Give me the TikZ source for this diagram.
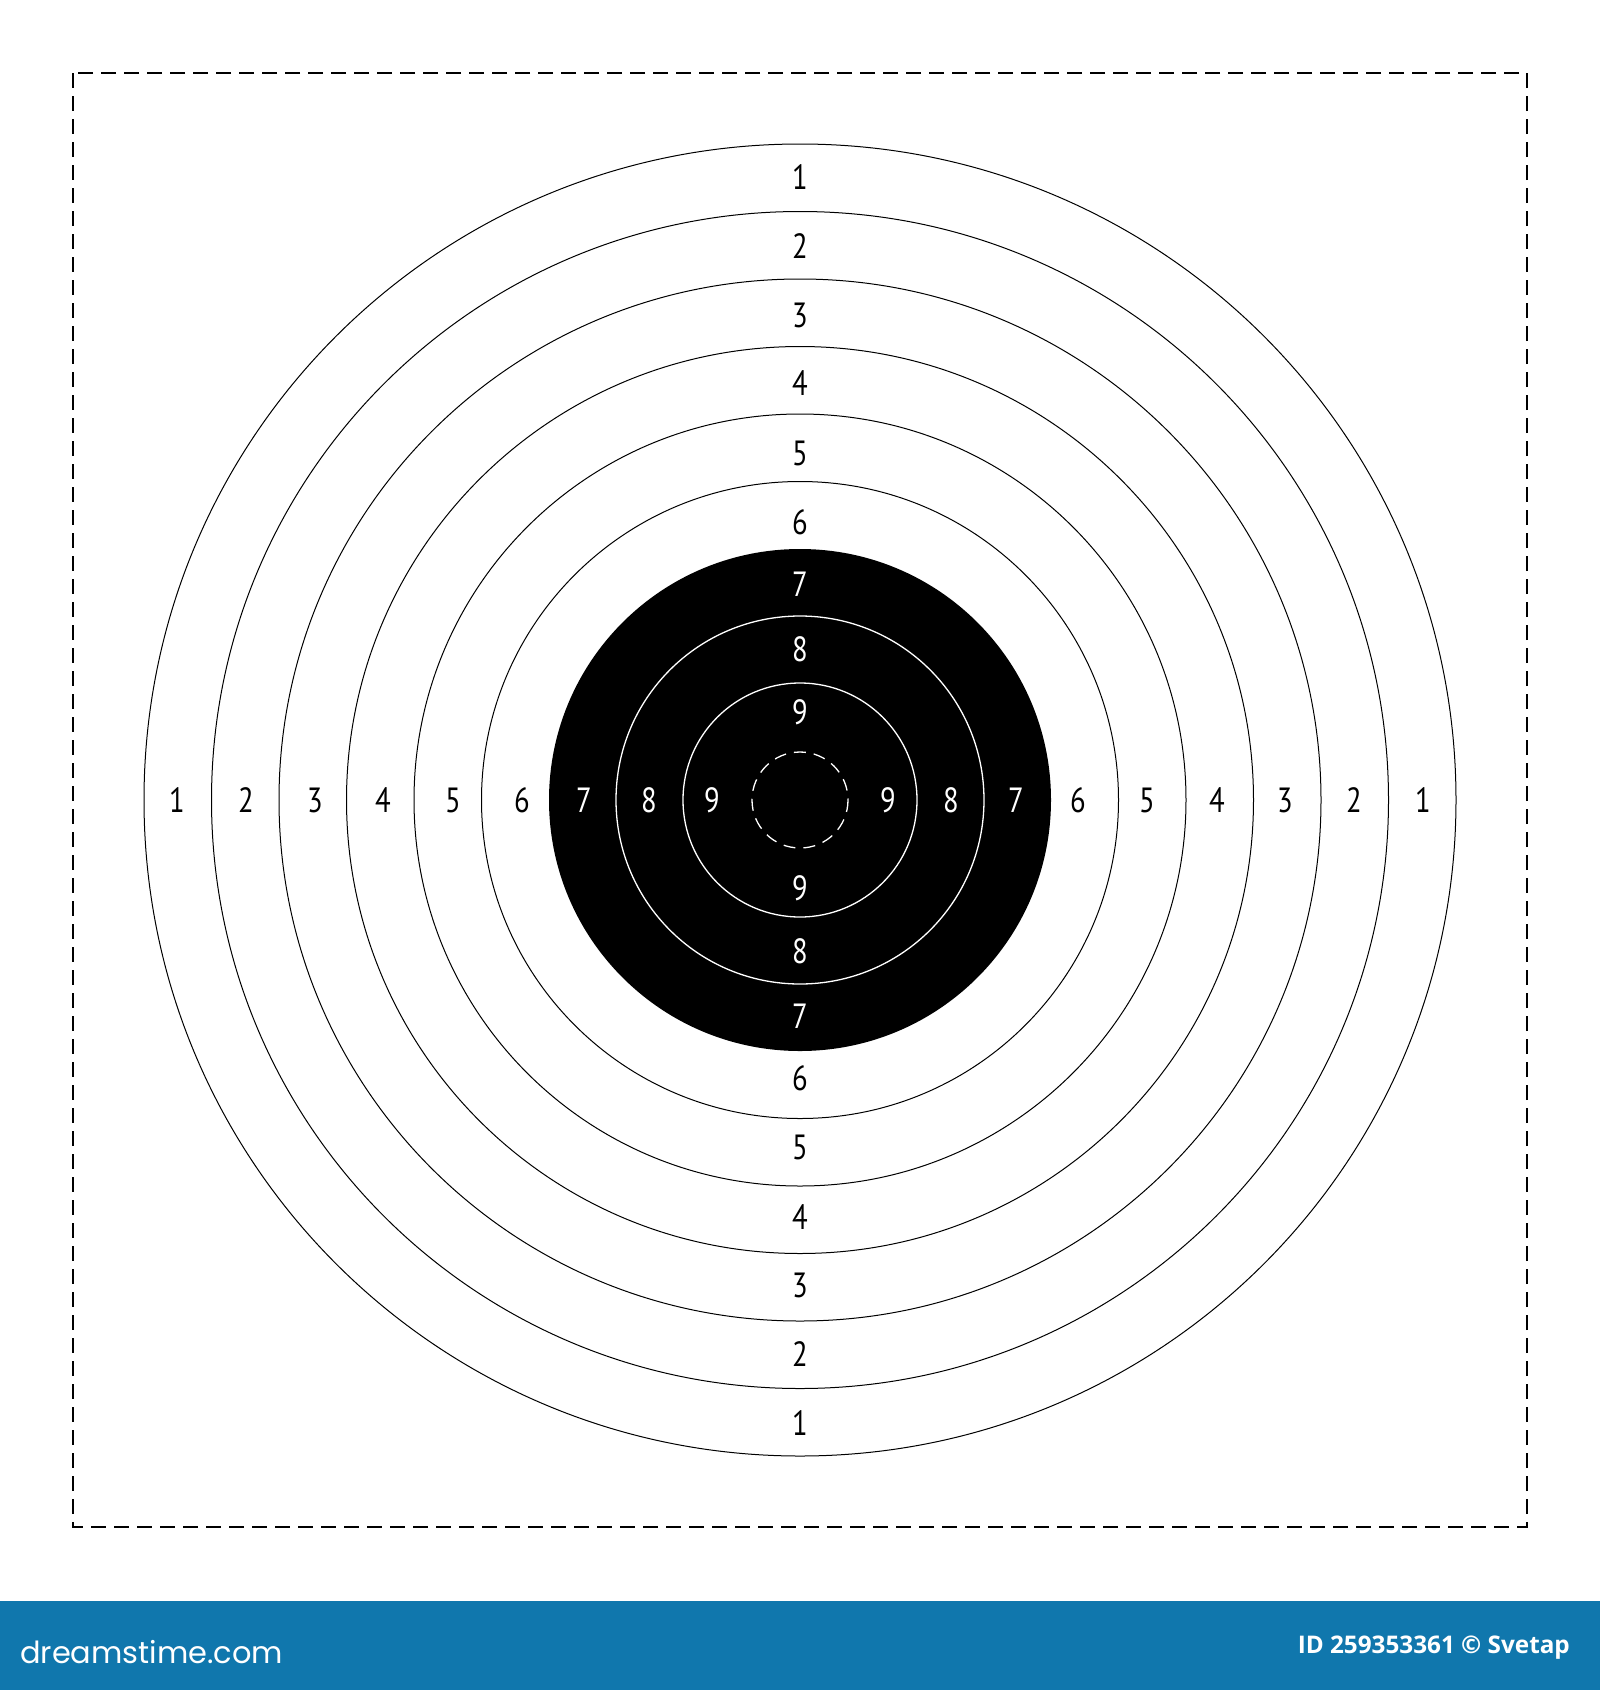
\documentclass[tikz,border=0pt]{standalone}
\usepackage{fontspec}
\setmainfont{PT Sans}[FakeStretch=0.82]
\newfontfamily\logofont{Poppins}
\newfontfamily\creditfont{Open Sans}
\definecolor{barblue}{RGB}{16,119,173}
\begin{document}
\begin{tikzpicture}[x=1pt,y=-1pt,
  ring/.style={draw=black, line width=1pt},
  wring/.style={draw=white, line width=1.3pt},
  innerdash/.style={draw=white, line width=1.3pt, dash pattern=on 12pt off 8pt},
  frame/.style={draw=black, line width=1.3pt, dash pattern=on 15pt off 8pt},
  num/.style={font=\fontsize{35}{35}\selectfont, inner sep=0pt, text=#1},
  num/.default=black,
  bartext/.style={text=white, inner sep=0pt}]
\useasboundingbox (0,0) rectangle (1600,1690);
\fill[white] (0,0) rectangle (1600,1690);
% dashed frame
\draw[frame] (73,73) rectangle (1527,1527);
\coordinate (c) at (800,800);
% outer rings
\foreach \r in {656,588.5,521,453.5,386,318.5}{
  \draw[ring] (c) circle[radius=\r];
}
% black centre
\fill[black] (c) circle[radius=251];
\draw[wring] (c) circle[radius=184];
\draw[wring] (c) circle[radius=117];
\draw[innerdash] (c) circle[radius=48];
% labels
\foreach \n/\r in {1/623,2/554,3/485,4/417,5/347,6/278}{
  \node[num] (t\n) at (800,800-\r) {\n};
  \node[num] (b\n) at (800,800+\r) {\n};
  \node[num] (l\n) at (800-\r,800) {\n};
  \node[num] (r\n) at (800+\r,800) {\n};
}
\foreach \n/\r in {7/216,8/151,9/88}{
  \node[num=white] (t\n) at (800,800-\r) {\n};
  \node[num=white] (b\n) at (800,800+\r) {\n};
  \node[num=white] (l\n) at (800-\r,800) {\n};
  \node[num=white] (r\n) at (800+\r,800) {\n};
}
% bottom bar
\fill[barblue] (0,1601) rectangle (1600,1690);
\node[bartext, anchor=base west] (logo) at (20,1663)
  {\resizebox{263pt}{!}{\logofont\fontsize{38}{38}\selectfont dreamstime.com}};
\node[bartext, anchor=base east] (credit) at (1570,1653)
  {\resizebox{272pt}{!}{\creditfont\bfseries\fontsize{24}{24}\selectfont ID 259353361 © Svetap}};
\end{tikzpicture}
\end{document}
